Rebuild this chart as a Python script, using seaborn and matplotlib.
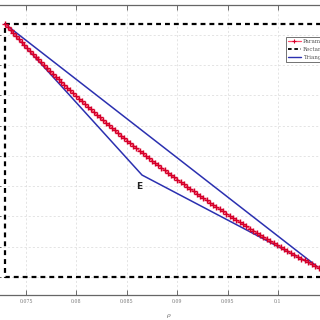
import matplotlib
matplotlib.use("Agg")
import matplotlib.pyplot as plt
import seaborn as sns
import numpy as np
import pandas as pd
from matplotlib.lines import Line2D

# ---- data ----
param_rho = [0.07292, 0.07319, 0.07347, 0.07374, 0.07401, 0.07429, 0.07457, 0.07484, 0.07512, 0.07540,
             0.07568, 0.07596, 0.07624, 0.07652, 0.07680, 0.07709, 0.07737, 0.07766, 0.07794, 0.07823,
             0.07851, 0.07880, 0.07909, 0.07938, 0.07967, 0.07996, 0.08026, 0.08055, 0.08084, 0.08114,
             0.08143, 0.08173, 0.08202, 0.08232, 0.08262, 0.08292, 0.08322, 0.08352, 0.08382, 0.08412,
             0.08443, 0.08473, 0.08504, 0.08534, 0.08565, 0.08595, 0.08626, 0.08657, 0.08688, 0.08719,
             0.08750, 0.08781, 0.08813, 0.08844, 0.08876, 0.08907, 0.08939, 0.08970, 0.09002, 0.09034,
             0.09066, 0.09098, 0.09130, 0.09162, 0.09194, 0.09226, 0.09259, 0.09291, 0.09324, 0.09356,
             0.09389, 0.09422, 0.09455, 0.09488, 0.09521, 0.09554, 0.09587, 0.09620, 0.09654, 0.09687,
             0.09720, 0.09754, 0.09788, 0.09821, 0.09855, 0.09889, 0.09923, 0.09957, 0.09991, 0.10025,
             0.10060, 0.10094, 0.10129, 0.10163, 0.10198, 0.10232, 0.10267, 0.10302, 0.10337, 0.10372,
             0.10407]
param_val = [1.1350, 1.1251, 1.1151, 1.1053, 1.0954, 1.0856, 1.0759, 1.0662, 1.0565, 1.0468,
             1.0372, 1.0277, 1.0181, 1.0087, 0.9992, 0.9898, 0.9804, 0.9711, 0.9618, 0.9525,
             0.9433, 0.9341, 0.9250, 0.9159, 0.9068, 0.8978, 0.8888, 0.8798, 0.8709, 0.8620,
             0.8532, 0.8444, 0.8356, 0.8269, 0.8182, 0.8096, 0.8010, 0.7924, 0.7839, 0.7754,
             0.7669, 0.7585, 0.7501, 0.7418, 0.7335, 0.7252, 0.7170, 0.7088, 0.7007, 0.6925,
             0.6845, 0.6764, 0.6684, 0.6605, 0.6526, 0.6447, 0.6368, 0.6290, 0.6213, 0.6135,
             0.6059, 0.5982, 0.5906, 0.5830, 0.5755, 0.5680, 0.5605, 0.5531, 0.5457, 0.5384,
             0.5311, 0.5238, 0.5166, 0.5094, 0.5022, 0.4951, 0.4880, 0.4810, 0.4740, 0.4670,
             0.4601, 0.4532, 0.4464, 0.4396, 0.4328, 0.4261, 0.4194, 0.4127, 0.4061, 0.3995,
             0.3930, 0.3865, 0.3800, 0.3736, 0.3672, 0.3609, 0.3546, 0.3483, 0.3421, 0.3359,
             0.3297]

# rectangle: only top, left and bottom edges fall inside the picture
rect_rho = [0.1060, 0.07292, 0.07292, 0.1060]
rect_val = [1.1350, 1.1350, 0.3000, 0.3000]

tri_rho = [0.07292, 0.08651, 0.10407, 0.07292]
tri_val = [1.1350, 0.6366, 0.3297, 1.1350]

point_label = "E"
point_rho = 0.08621
point_val = 0.6003

xtick_vals = [0.075, 0.08, 0.085, 0.09, 0.095, 0.1]
xtick_labels = ["0.075", "0.08", "0.085", "0.09", "0.095", "0.1"]
ytick_vals = [0.3, 0.4, 0.5, 0.6, 0.7, 0.8, 0.9, 1.0, 1.1]
legend_labels = ["Parametric", "Rectangle", "Triangle"]
x_label = "\u03c1"

# ---- figure ----
sns.set_theme(style="white")
plt.rcParams["font.family"] = ["DejaVu Sans"]

fig = plt.figure(figsize=(3.2, 3.2), dpi=100)
fig.patch.set_facecolor("white")
ax = fig.add_axes([-0.01325, 0.078, 1.0395, 0.9063])
ax.set_facecolor("white")

blue = "#2b30b0"

df_p = pd.DataFrame({"rho": param_rho, "v": param_val})
df_r = pd.DataFrame({"rho": rect_rho, "v": rect_val})
df_t = pd.DataFrame({"rho": tri_rho, "v": tri_val})

sns.lineplot(data=df_r, x="rho", y="v", sort=False, estimator=None, ax=ax,
             color="black", linewidth=1.6, linestyle=(0, (2.2, 1.8)), zorder=3)
sns.lineplot(data=df_t, x="rho", y="v", sort=False, estimator=None, ax=ax,
             color=blue, linewidth=1.1, zorder=4)
sns.lineplot(data=df_p, x="rho", y="v", sort=False, estimator=None, ax=ax,
             color="#ff4a6a", linewidth=1.1, marker="+", markersize=3.8,
             markeredgecolor="#d4002a", markeredgewidth=1.0, zorder=5)

ax.text(point_rho, point_val, point_label, fontsize=6.5, fontweight="bold",
        color="#222222", ha="center", va="center", zorder=6)

ax.set_xlim(0.072, 0.105)
ax.set_ylim(0.2406, 1.1977)
ax.set_xticks(xtick_vals)
ax.set_xticklabels(xtick_labels, fontsize=3.4, family="DejaVu Serif", color="#777777")
ax.set_yticks(ytick_vals)
ax.set_yticklabels([])
ax.tick_params(axis="x", which="both", direction="in", top=True, bottom=True,
               length=3.5, width=0.6, color="#555555", pad=2.5)
ax.tick_params(axis="y", which="both", direction="in", left=True, right=True,
               length=3.5, width=0.6, color="#555555")

ax.grid(True, linestyle=(0, (3, 3)), color="#d9d9d9", linewidth=0.5)
ax.set_axisbelow(True)
for s in ax.spines.values():
    s.set_color("#666666")
    s.set_linewidth(0.9)

ax.set_xlabel(x_label, fontsize=4.5, style="italic", color="#666666", family="DejaVu Serif")
ax.set_ylabel("")
ax.xaxis.set_label_coords(0.518, -0.062)

handles = [
    Line2D([], [], color="#ff4a6a", linewidth=0.9, marker="+", markersize=3,
           markeredgecolor="#d4002a", markeredgewidth=0.8),
    Line2D([], [], color="black", linewidth=1.3, linestyle=(0, (2, 1.5))),
    Line2D([], [], color=blue, linewidth=1.0),
]
leg = ax.legend(handles, legend_labels, loc="upper left",
                bbox_to_anchor=(286 / 320, 1 - 37 / 320), bbox_transform=fig.transFigure,
                borderaxespad=0, prop={"family": "DejaVu Serif", "size": 4.0},
                handlelength=2.3, handletextpad=0.4, labelspacing=0.55, borderpad=0.35,
                frameon=True, fancybox=False)
leg.get_frame().set_edgecolor("#333333")
leg.get_frame().set_linewidth(0.6)
for t in leg.get_texts():
    t.set_color("#555555")

fig.savefig("out.png", dpi=100)
